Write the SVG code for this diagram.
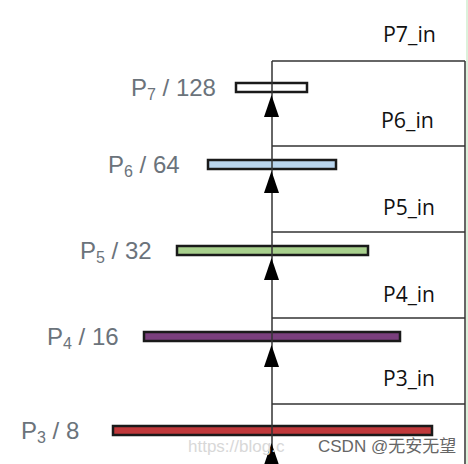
<svg xmlns="http://www.w3.org/2000/svg" width="468" height="464" viewBox="0 0 468 464">
<style>
.bar{stroke:#1a1a1a;stroke-width:2.5}
.lbl{font-family:"Liberation Sans",Arial,sans-serif;font-size:24px;fill:#6b737b}
.sub{font-size:16px}
.inl{font-family:"Open Sans","Liberation Sans",sans-serif;font-size:21px;fill:#111}
.ln{stroke:#333;stroke-width:1.5;fill:none}
.ah{fill:#000}
.wm1{font-family:"Liberation Sans",Arial,sans-serif;font-size:17px;fill:#d8d8d8}
.wm2{font-family:"Liberation Sans","Noto Sans CJK SC",sans-serif;font-size:17px;fill:#666}
</style>
<rect width="468" height="464" fill="#fff"/>
<line x1="467" y1="0" x2="467" y2="464" stroke="#cfeccf" stroke-width="1.5"/>
<g id="P7">
<rect class="bar" x="236" y="83" width="71" height="9" fill="#ffffff"/>
<text class="lbl" x="131" y="96">P<tspan class="sub" dy="4">7</tspan><tspan dy="-4"> / 128</tspan></text>
</g>
<g id="P6">
<rect class="bar" x="208" y="160" width="128" height="9" fill="#b9d5ee"/>
<text class="lbl" x="108" y="173">P<tspan class="sub" dy="4">6</tspan><tspan dy="-4"> / 64</tspan></text>
</g>
<g id="P5">
<rect class="bar" x="177" y="246" width="191" height="9" fill="#a8d08d"/>
<text class="lbl" x="80" y="259">P<tspan class="sub" dy="4">5</tspan><tspan dy="-4"> / 32</tspan></text>
</g>
<g id="P4">
<rect class="bar" x="144" y="332" width="256" height="9" fill="#7a3f7d"/>
<text class="lbl" x="47" y="345">P<tspan class="sub" dy="4">4</tspan><tspan dy="-4"> / 16</tspan></text>
</g>
<g id="P3">
<rect class="bar" x="113" y="426" width="319" height="9" fill="#c0393b"/>
<text class="lbl" x="21" y="439">P<tspan class="sub" dy="4">3</tspan><tspan dy="-4"> / 8</tspan></text>
</g>
<g id="inputs">
<text class="inl" x="383" y="42" textLength="53" lengthAdjust="spacingAndGlyphs">P7_in</text>
<text class="inl" x="381" y="128" textLength="53" lengthAdjust="spacingAndGlyphs">P6_in</text>
<text class="inl" x="383" y="215" textLength="52" lengthAdjust="spacingAndGlyphs">P5_in</text>
<text class="inl" x="383" y="302" textLength="52" lengthAdjust="spacingAndGlyphs">P4_in</text>
<text class="inl" x="383" y="386" textLength="52" lengthAdjust="spacingAndGlyphs">P3_in</text>
</g>
<g id="connectors">
<line class="ln" x1="272" y1="61" x2="272" y2="464"/>
<line class="ln" x1="465" y1="61" x2="465" y2="464"/>
<line class="ln" x1="272" y1="61" x2="465" y2="61"/>
<line class="ln" x1="272" y1="146" x2="465" y2="146"/>
<line class="ln" x1="272" y1="232" x2="465" y2="232"/>
<line class="ln" x1="272" y1="318" x2="465" y2="318"/>
<line class="ln" x1="272" y1="404" x2="465" y2="404"/>
<polygon class="ah" points="271.5,95 264,117 279,117"/>
<polygon class="ah" points="271.5,171 264,193 279,193"/>
<polygon class="ah" points="271.5,258 264,280 279,280"/>
<polygon class="ah" points="271.5,345 264,367 279,367"/>
<polygon class="ah" points="271.5,443 264,465 279,465"/>
</g>
<text class="wm1" x="188" y="452">https://blog.c</text>
<text class="wm2" x="318" y="452">CSDN @无安无望</text>
</svg>
